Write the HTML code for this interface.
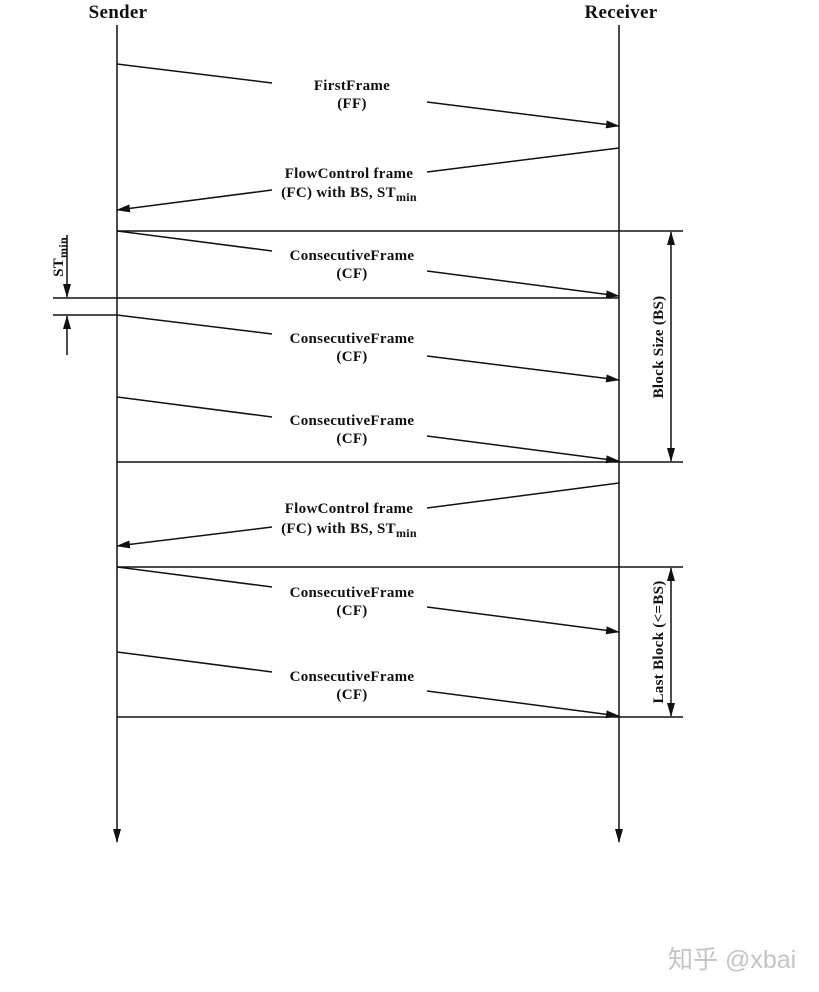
<!DOCTYPE html>
<html><head><meta charset="utf-8"><style>
html,body{margin:0;padding:0;background:#fff;}
svg{display:block;}
text{font-family:"Liberation Serif",serif;font-weight:bold;fill:#111;}
</style></head><body>
<svg width="819" height="992" viewBox="0 0 819 992" xmlns="http://www.w3.org/2000/svg">
<defs>
<marker id="a" markerWidth="14" markerHeight="8" refX="13" refY="4" orient="auto" markerUnits="userSpaceOnUse">
<path d="M0,0 L14,4 L0,8 Z" fill="#111"/></marker>
</defs>
<g stroke="#111" stroke-width="1.5" fill="none">
<line x1="117" y1="25" x2="117" y2="842" marker-end="url(#a)"/>
<line x1="619" y1="25" x2="619" y2="842" marker-end="url(#a)"/>
<line x1="117" y1="231" x2="683" y2="231"/>
<line x1="53" y1="298" x2="619" y2="298"/>
<line x1="53" y1="315" x2="117" y2="315"/>
<line x1="117" y1="462" x2="683" y2="462"/>
<line x1="117" y1="567" x2="683" y2="567"/>
<line x1="117" y1="717" x2="683" y2="717"/>
<line x1="117" y1="64" x2="272" y2="83"/>
<line x1="427" y1="102" x2="619" y2="126" marker-end="url(#a)"/>
<line x1="619" y1="148" x2="427" y2="172"/>
<line x1="272" y1="190" x2="117" y2="210" marker-end="url(#a)"/>
<line x1="117" y1="231" x2="272" y2="251"/>
<line x1="427" y1="271" x2="619" y2="296" marker-end="url(#a)"/>
<line x1="117" y1="315" x2="272" y2="334"/>
<line x1="427" y1="356" x2="619" y2="380" marker-end="url(#a)"/>
<line x1="117" y1="397" x2="272" y2="417"/>
<line x1="427" y1="436" x2="619" y2="461" marker-end="url(#a)"/>
<line x1="619" y1="483" x2="427" y2="508"/>
<line x1="272" y1="527" x2="117" y2="546" marker-end="url(#a)"/>
<line x1="117" y1="567" x2="272" y2="587"/>
<line x1="427" y1="607" x2="619" y2="632" marker-end="url(#a)"/>
<line x1="117" y1="652" x2="272" y2="672"/>
<line x1="427" y1="691" x2="619" y2="716" marker-end="url(#a)"/>
<line x1="671" y1="250" x2="671" y2="232" marker-end="url(#a)"/>
<line x1="671" y1="250" x2="671" y2="461" marker-end="url(#a)"/>
<line x1="671" y1="590" x2="671" y2="568" marker-end="url(#a)"/>
<line x1="671" y1="590" x2="671" y2="716" marker-end="url(#a)"/>
<line x1="67" y1="235" x2="67" y2="297" marker-end="url(#a)"/>
<line x1="67" y1="355" x2="67" y2="316" marker-end="url(#a)"/>
</g>
<g font-size="15" text-anchor="middle" letter-spacing="0.3">
<text x="118" y="18" font-size="19">Sender</text>
<text x="621" y="18" font-size="19">Receiver</text>
<text x="352" y="90">FirstFrame</text><text x="352" y="108">(FF)</text>
<text x="349" y="178">FlowControl frame</text>
<text x="349" y="197">(FC) with BS, ST<tspan font-size="12" dy="4">min</tspan></text>
<text x="352" y="260">ConsecutiveFrame</text><text x="352" y="278">(CF)</text>
<text x="352" y="343">ConsecutiveFrame</text><text x="352" y="361">(CF)</text>
<text x="352" y="425">ConsecutiveFrame</text><text x="352" y="443">(CF)</text>
<text x="349" y="513">FlowControl frame</text>
<text x="349" y="533">(FC) with BS, ST<tspan font-size="12" dy="4">min</tspan></text>
<text x="352" y="597">ConsecutiveFrame</text><text x="352" y="615">(CF)</text>
<text x="352" y="681">ConsecutiveFrame</text><text x="352" y="699">(CF)</text>
<text transform="translate(663,347) rotate(-90)">Block Size (BS)</text>
<text transform="translate(663,642) rotate(-90)">Last Block (&lt;=BS)</text>
<text transform="translate(63,257) rotate(-90)">ST<tspan font-size="12" dy="4">min</tspan></text>
</g>
<text x="668" y="968" style="font-family:'Liberation Sans','Noto Sans CJK SC',sans-serif;font-weight:normal;fill:#c4c4c4" font-size="25">知乎 @xbai</text>
</svg>
</body></html>
